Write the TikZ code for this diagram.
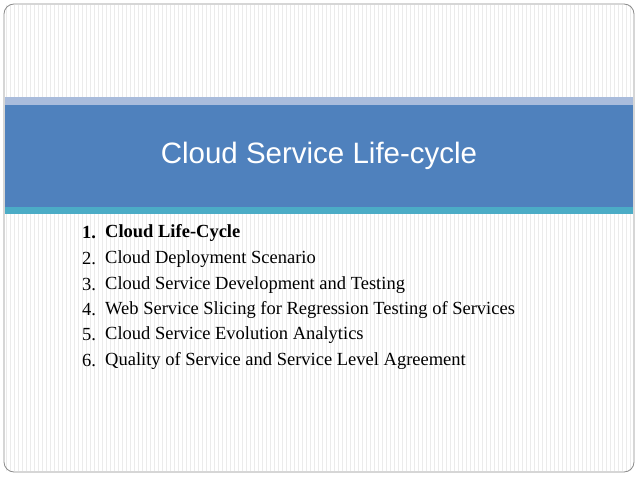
\documentclass[tikz,border=0pt]{standalone}
\usepackage{fontspec}
\setmainfont{Liberation Serif}
\newfontfamily\titlefont{Liberation Sans}
\definecolor{bandlight}{HTML}{A9BCDC}
\definecolor{bandblue}{HTML}{4F81BD}
\definecolor{bandteal}{HTML}{4BACC6}
\tikzset{item/.style={anchor=west,font=\fontsize{18.5}{20}\selectfont,inner sep=0pt},
num/.style={anchor=west,font=\fontsize{18.5}{20}\selectfont,inner sep=0pt}}
\begin{document}
\begin{tikzpicture}[x=1pt,y=-1pt]
\useasboundingbox (0,0) rectangle (638,478);
\fill[white] (0,0) rectangle (638,478);
\foreach \x in {6,10,...,632} \draw[black!8,line width=0.5pt] (\x,5) -- (\x,471);
\fill[bandlight] (5,97) rectangle (633,105);
\fill[bandblue] (5,105) rectangle (633,207);
\fill[bandteal] (5,207) rectangle (633,214);
\draw[black!45,line width=0.8pt,rounded corners=10pt] (4,4) rectangle (634,472);
\node[text=white,font=\titlefont\fontsize{29.5}{32}\selectfont] (title) at (319,156) {Cloud Service Life-cycle};
\node[num] (n1) at (82,233) {\textbf{1.}};
\node[item] (t1) at (105,233) {\textbf{Cloud Life-Cycle}};
\node[num] (n2) at (82,259) {2.};
\node[item] (t2) at (105,259) {Cloud Deployment Scenario};
\node[num] (n3) at (82,285) {3.};
\node[item] (t3) at (105,285) {Cloud Service Development and Testing};
\node[num] (n4) at (82,310) {4.};
\node[item] (t4) at (105,310) {Web Service Slicing for Regression Testing of Services};
\node[num] (n5) at (82,335) {5.};
\node[item] (t5) at (105,335) {Cloud Service Evolution Analytics};
\node[num] (n6) at (82,361) {6.};
\node[item] (t6) at (105,361) {Quality of Service and Service Level Agreement};
\end{tikzpicture}
\end{document}
